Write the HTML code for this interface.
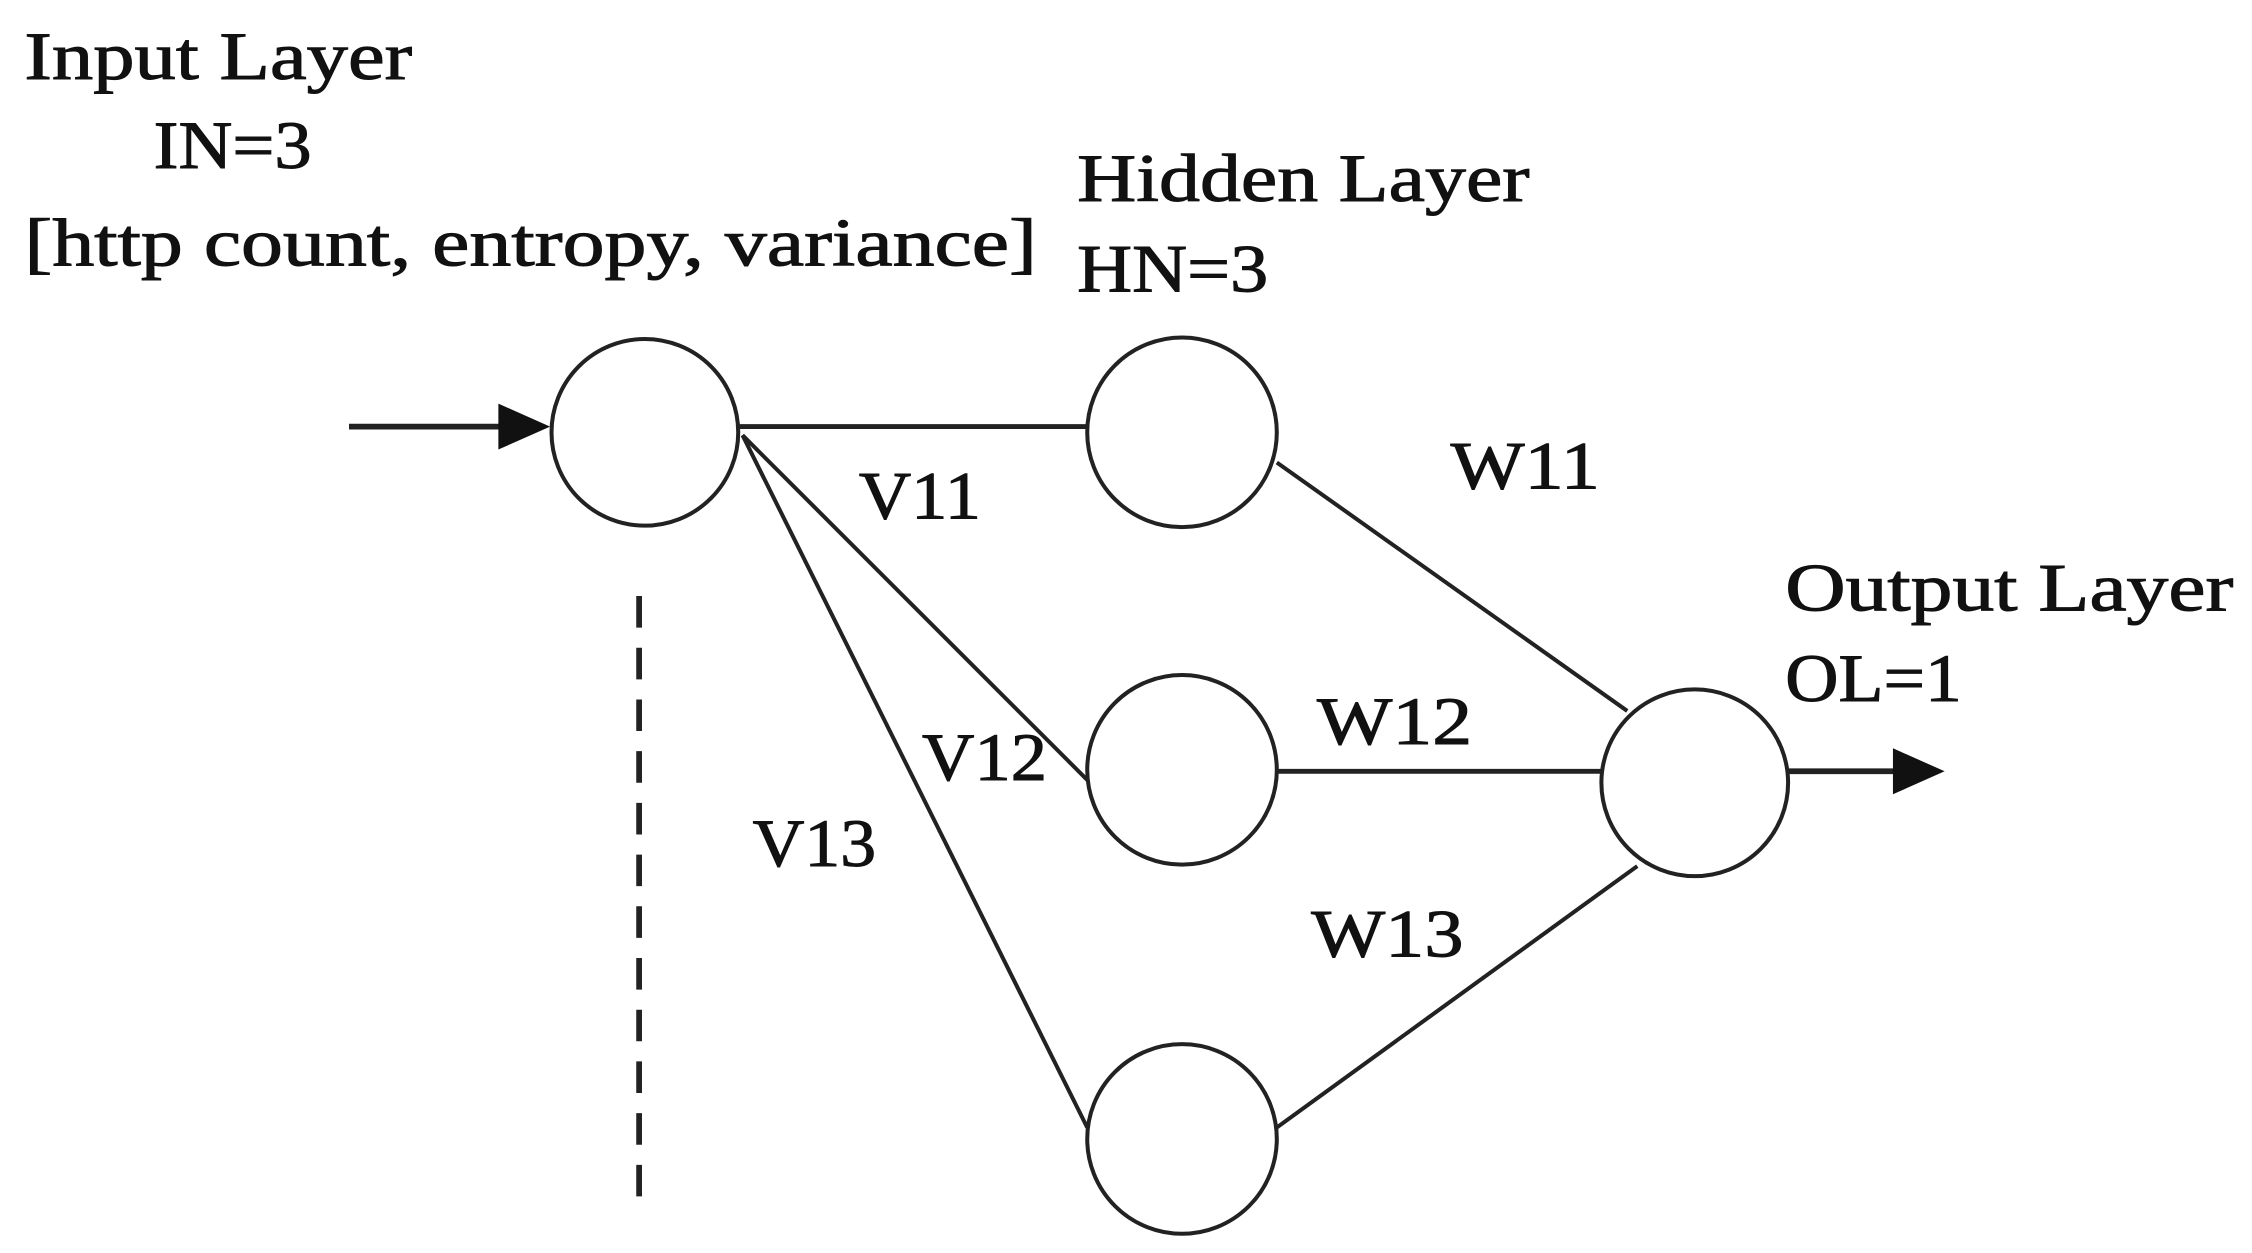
<!DOCTYPE html>
<html><head><style>html,body{margin:0;padding:0;background:#fff;}svg{display:block;}</style></head>
<body>
<svg width="2252" height="1253" viewBox="0 0 1568 872.4" preserveAspectRatio="none" xmlns="http://www.w3.org/2000/svg">
<rect width="1568" height="873" fill="#fff"/>
<g font-family="Liberation Serif, serif" font-size="47" fill="#111" stroke="#111" stroke-width="0.7">
<text x="17" y="55" textLength="270" lengthAdjust="spacingAndGlyphs">Input Layer</text>
<text x="107" y="117" textLength="110" lengthAdjust="spacingAndGlyphs">IN=3</text>
<text x="17" y="185" textLength="705" lengthAdjust="spacingAndGlyphs">[http count, entropy, variance]</text>
<text x="750" y="140" textLength="315" lengthAdjust="spacingAndGlyphs">Hidden Layer</text>
<text x="750" y="203" textLength="133" lengthAdjust="spacingAndGlyphs">HN=3</text>
<text x="598" y="361" textLength="85" lengthAdjust="spacingAndGlyphs">V11</text>
<text x="642" y="543" textLength="87" lengthAdjust="spacingAndGlyphs">V12</text>
<text x="524" y="603" textLength="86" lengthAdjust="spacingAndGlyphs">V13</text>
<text x="1010" y="340" textLength="104" lengthAdjust="spacingAndGlyphs">W11</text>
<text x="917" y="518" textLength="108" lengthAdjust="spacingAndGlyphs">W12</text>
<text x="913" y="666" textLength="106" lengthAdjust="spacingAndGlyphs">W13</text>
<text x="1243" y="425" textLength="312" lengthAdjust="spacingAndGlyphs">Output Layer</text>
<text x="1243" y="488" textLength="123" lengthAdjust="spacingAndGlyphs">OL=1</text>
</g>
<g fill="none" stroke="#222" stroke-width="2.8">
<circle cx="449" cy="301" r="65"/>
<circle cx="823" cy="301" r="66"/>
<circle cx="823" cy="536" r="66"/>
<circle cx="823" cy="793" r="66"/>
<circle cx="1180" cy="545" r="65"/>
<line x1="515" y1="297" x2="757" y2="297" stroke-width="3.4"/>
<line x1="517" y1="303" x2="757" y2="543"/>
<line x1="517" y1="303" x2="757" y2="785"/>
<line x1="889" y1="322" x2="1133" y2="495"/>
<line x1="889" y1="537" x2="1115" y2="537" stroke-width="3.4"/>
<line x1="889" y1="785" x2="1140" y2="603"/>
<line x1="243" y1="297" x2="355" y2="297" stroke-width="4"/>
<line x1="1245" y1="537" x2="1325" y2="537" stroke-width="4"/>
<line x1="445" y1="415" x2="445" y2="845" stroke-width="4" stroke-dasharray="22,14"/>
</g>
<polygon points="347,281 383,297 347,313" fill="#111"/>
<polygon points="1318,521 1354,537 1318,553" fill="#111"/>
</svg>
</body></html>
